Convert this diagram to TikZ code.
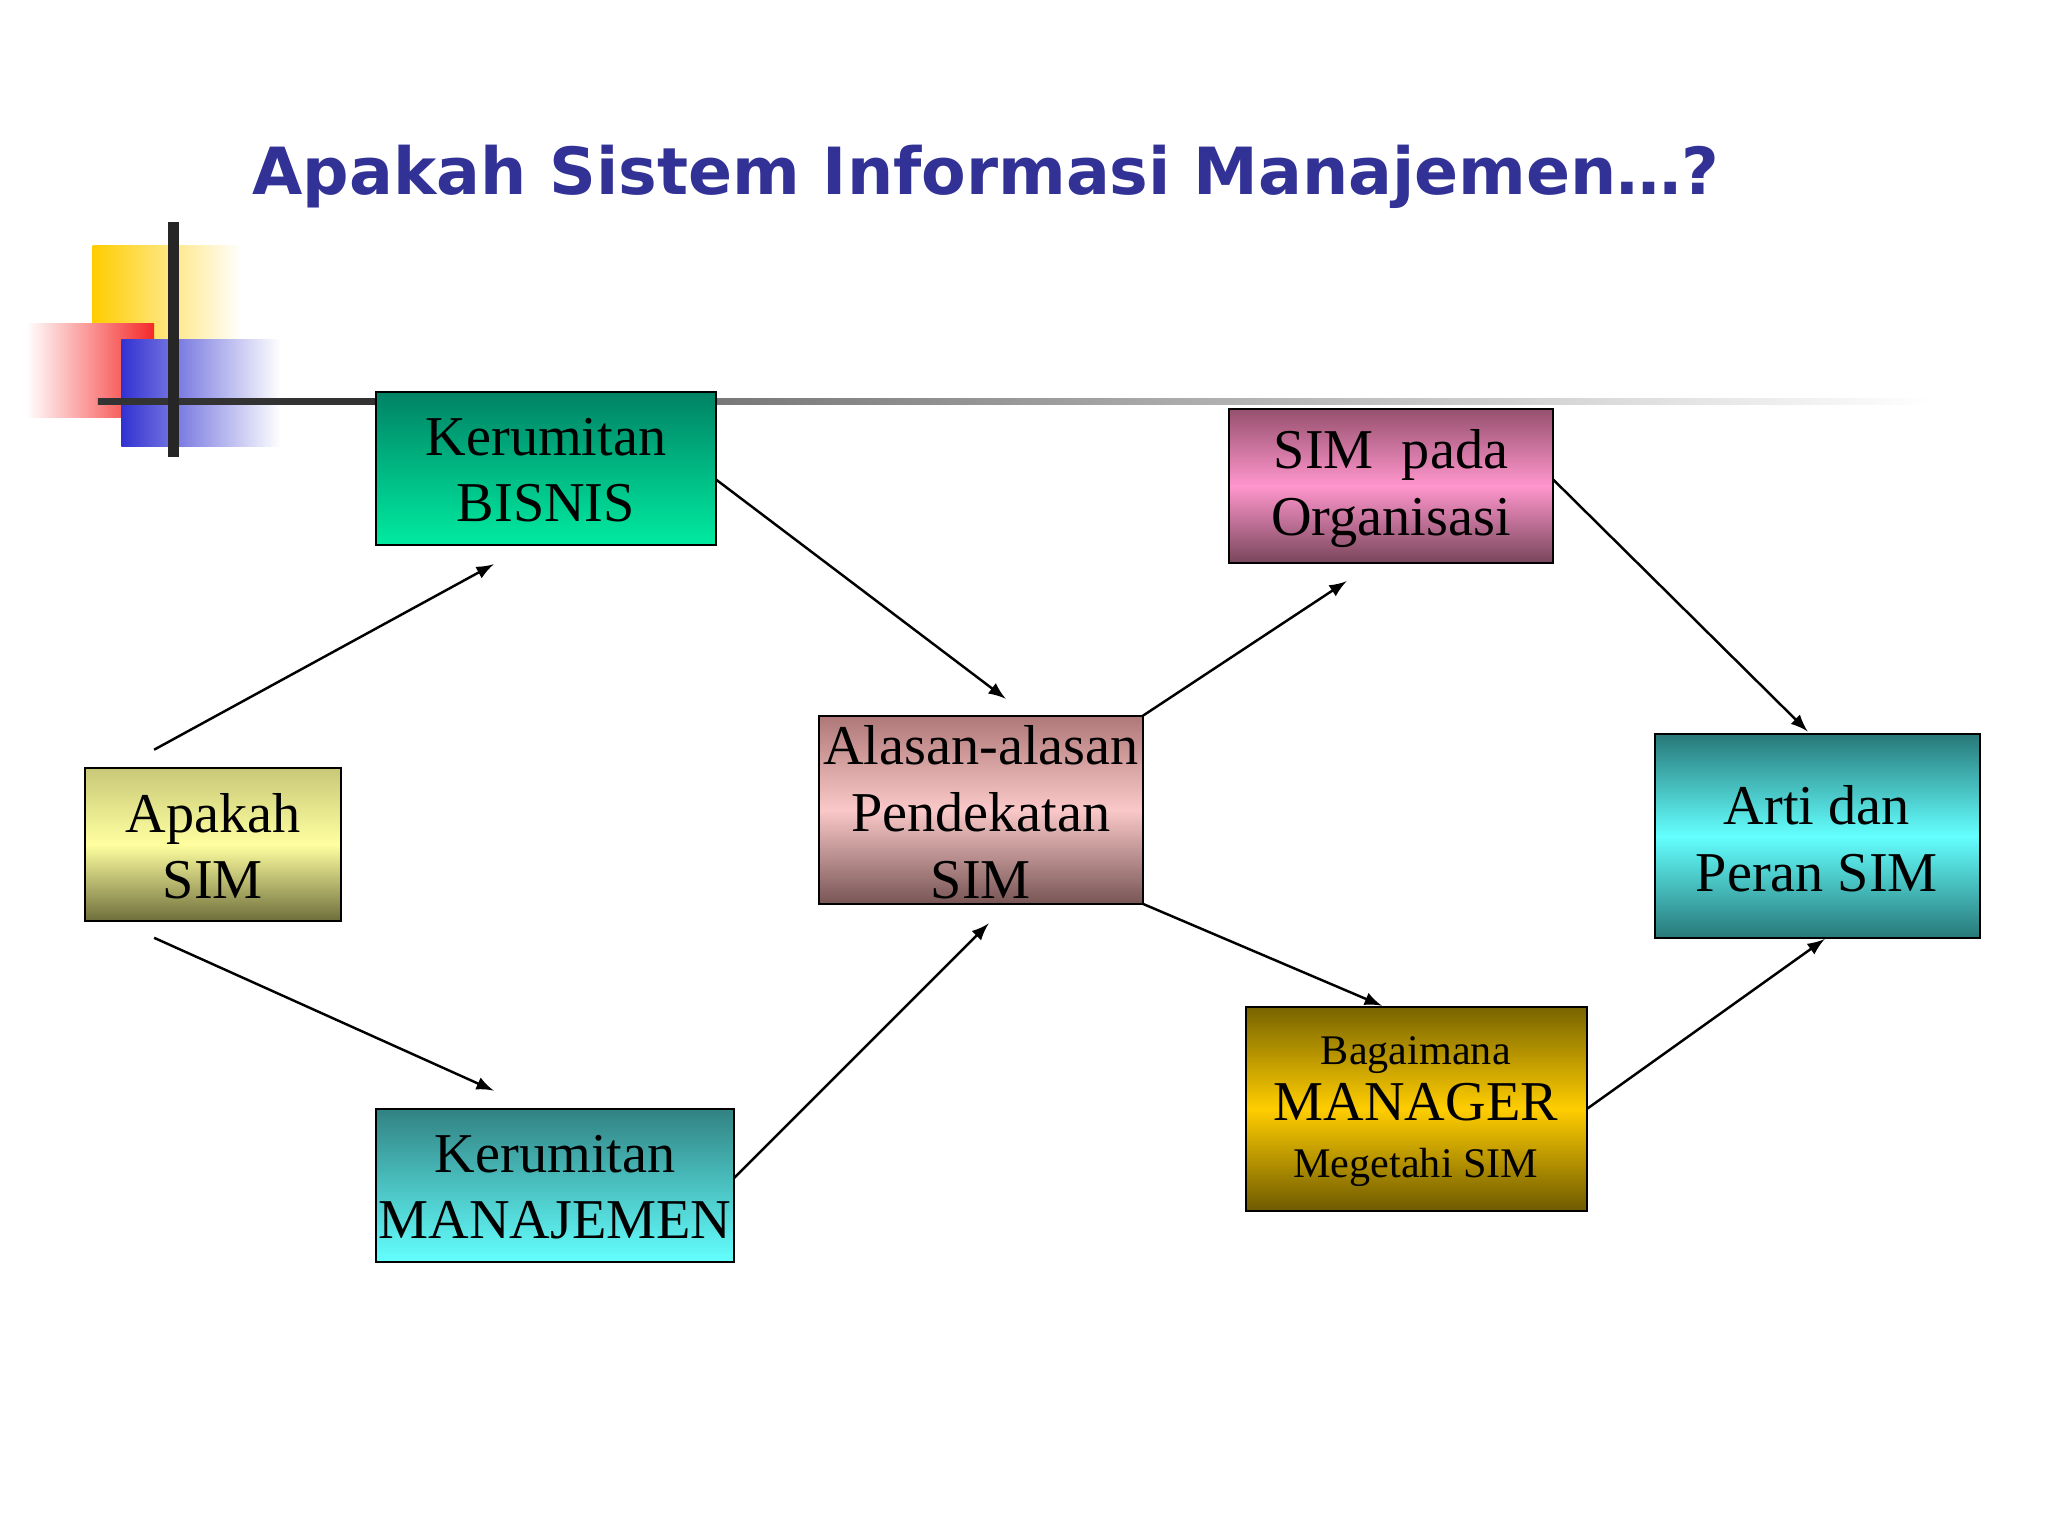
\documentclass[tikz,border=0pt]{standalone}
\usepackage{fontspec}
\setmainfont{Liberation Serif}
\newfontfamily\titlefont{DejaVu Sans}
\begin{document}
\begin{tikzpicture}[x=0.013064cm,y=-0.013064cm,
  bx/.style={align=center,inner sep=0pt,font=\fontsize{16}{19}\selectfont},
  ar/.style={-latex,line width=0.7pt}]
\useasboundingbox (0,0) rectangle (20.48cm,-15.36cm);
\definecolor{tblue}{RGB}{50,50,150}
% decoration
\shade[left color={rgb,255:red,255;green,205;blue,0},right color=white] (71,188) rectangle (185,300);
\shade[left color=white,right color={rgb,255:red,245;green,40;blue,40}] (20,248) rectangle (118,320);
\shade[left color={rgb,255:red,50;green,50;blue,210},right color=white] (93,260) rectangle (215,342);
\shade[left color=black!80,right color=white] (75,305) rectangle (1480,310);
\fill[black!80] (75,305) rectangle (290,310);
\draw[line width=3pt,black!85] (133,170) -- (133,350);
% title
\node[font=\titlefont\bfseries\fontsize{18.5}{22}\selectfont,text=tblue] (title) at (755,135) {Apakah Sistem Informasi Manajemen\dots?};
% boxes
\shade[top color={rgb,255:red,0;green,130;blue,100},bottom color={rgb,255:red,0;green,235;blue,160}] (288,300) rectangle (548,417);
\draw[line width=0.6pt] (288,300) rectangle (548,417);
\node[bx] (kb) at (418,360) {Kerumitan\\BISNIS};
\coordinate (kbE) at (548,367);

\shade[top color={rgb,255:red,200;green,200;blue,120},bottom color={rgb,255:red,110;green,110;blue,60},middle color={rgb,255:red,255;green,255;blue,160}] (65,588) rectangle (261,705);
\draw[line width=0.6pt] (65,588) rectangle (261,705);
\node[bx] (ap) at (163,648) {Apakah\\SIM};

\shade[top color={rgb,255:red,50;green,130;blue,130},bottom color={rgb,255:red,100;green,255;blue,255}] (288,849) rectangle (562,966);
\draw[line width=0.6pt] (288,849) rectangle (562,966);
\node[bx] (km) at (425,909) {Kerumitan\\MANAJEMEN};
\coordinate (kmE) at (562,902);

\shade[top color={rgb,255:red,175;green,120;blue,120},bottom color={rgb,255:red,120;green,85;blue,85},middle color={rgb,255:red,250;green,200;blue,200}] (627,548) rectangle (875,692);
\draw[line width=0.6pt] (627,548) rectangle (875,692);
\node[bx] (al) at (751,622) {Alasan-alasan\\Pendekatan\\SIM};
\coordinate (alNE) at (875,548);
\coordinate (alSE) at (875,692);

\shade[top color={rgb,255:red,150;green,80;blue,110},bottom color={rgb,255:red,120;green,70;blue,90},middle color={rgb,255:red,255;green,150;blue,205}] (941,313) rectangle (1189,431);
\draw[line width=0.6pt] (941,313) rectangle (1189,431);
\node[bx] (sp) at (1065,374) {SIM\ \ pada\\Organisasi};
\coordinate (spE) at (1189,367);

\shade[top color={rgb,255:red,120;green,100;blue,0},bottom color={rgb,255:red,110;green,90;blue,0},middle color={rgb,255:red,255;green,205;blue,0}] (954,771) rectangle (1215,927);
\draw[line width=0.6pt] (954,771) rectangle (1215,927);
\node[bx,font=\fontsize{12}{14}\selectfont] (bg) at (1084,851) {Bagaimana\\[2pt]{\fontsize{16}{19}\selectfont MANAGER}\\[2pt]Megetahi SIM};
\coordinate (bgE) at (1215,849);

\shade[top color={rgb,255:red,40;green,120;blue,120},bottom color={rgb,255:red,40;green,120;blue,120},middle color={rgb,255:red,100;green,255;blue,255}] (1267,562) rectangle (1516,718);
\draw[line width=0.6pt] (1267,562) rectangle (1516,718);
\node[bx] (ar) at (1391,642) {Arti dan\\Peran SIM};

% free ends
\coordinate (a1s) at (118,574); \coordinate (a1e) at (378,432);
\coordinate (a2s) at (118,718); \coordinate (a2e) at (378,835);
\coordinate (a3e) at (770,535);
\coordinate (a4e) at (757,707);
\coordinate (a5e) at (1031,445);
\coordinate (a6e) at (1058,770);
\coordinate (a7e) at (1384,560);
\coordinate (a8e) at (1397,719);
\draw[ar] (a1s) -- (a1e);
\draw[ar] (a2s) -- (a2e);
\draw[ar] (kbE) -- (a3e);
\draw[ar] (kmE) -- (a4e);
\draw[ar] (alNE) -- (a5e);
\draw[ar] (alSE) -- (a6e);
\draw[ar] (spE) -- (a7e);
\draw[ar] (bgE) -- (a8e);
\end{tikzpicture}
\end{document}
